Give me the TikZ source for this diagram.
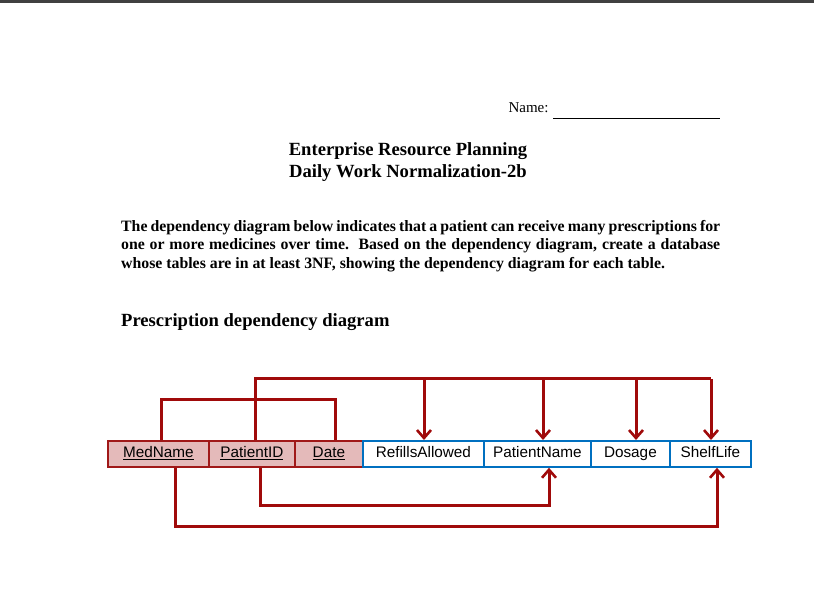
\documentclass[tikz,border=0pt]{standalone}
\usepackage{fontspec}
\setmainfont{Liberation Serif}
\newfontfamily\arial{Liberation Sans}
\definecolor{keyfill}{HTML}{E4BABA}
\definecolor{keyline}{HTML}{A01818}
\definecolor{attrline}{HTML}{0070C0}
\definecolor{depcol}{HTML}{A00A0A}
\begin{document}
\begin{tikzpicture}[x=1pt,y=-1pt,
  cell/.style={line width=1.8pt,minimum height=26pt,inner sep=0pt,text height=11pt,text depth=3pt,font=\arial\fontsize{15.3}{17}\selectfont,anchor=north west},
  key/.style={cell,draw=keyline,fill=keyfill},
  attr/.style={cell,draw=attrline},
  dep/.style={draw=depcol,line width=3pt},
  deparr/.style={dep,-{Straight Barb[length=8pt,width=14pt,line width=2.6pt]}}]
\usetikzlibrary{arrows.meta}
\useasboundingbox (0,0) rectangle (814,593);
\fill[black!75] (0,0) rectangle (814,3);
\node[anchor=base west,font=\fontsize{15}{17}\selectfont] (nm) at (505,113) {Name:};
\coordinate (l1) at (553,118); \coordinate (l2) at (720,118);
\draw[line width=0.8pt] (l1) -- (l2);
\node[anchor=north,align=center,font=\bfseries\fontsize{18.6}{22}\selectfont] (title) at (408,139) {Enterprise Resource Planning\\Daily Work Normalization-2b};
\node[anchor=north west,text width=599pt,inner sep=0pt,align=justify,font=\bfseries\fontsize{15.8}{18.5}\selectfont] (para) at (121,220) {The dependency diagram below indicates that a patient can receive many prescriptions for one or more medicines over time.\ \ Based on the dependency diagram, create a database whose tables are in at least 3NF, showing the dependency diagram for each table.};
\node[anchor=north west,inner sep=0pt,font=\bfseries\fontsize{18.6}{22}\selectfont] (sub) at (121,313) {Prescription dependency diagram};
\node[key,minimum width=101pt] (med) at (107,440) {\underline{MedName}};
\node[key,minimum width=86pt] (pid) at (208,440) {\underline{PatientID}};
\node[key,minimum width=68pt] (date) at (294,440) {\underline{Date}};
\node[attr,minimum width=121pt] (ref) at (362,440) {RefillsAllowed};
\node[attr,minimum width=107pt] (pn) at (483,440) {PatientName};
\node[attr,minimum width=79pt] (dos) at (590,440) {Dosage};
\node[attr,minimum width=81pt] (sl) at (669,440) {ShelfLife};
\draw[dep] (med.north west) ++(54,0) |- (335,400) -- (date.north west -| 335,0);
\draw[dep] (255,440) -- (255,379) -- (711,379);
\draw[deparr] (424,379) -- (ref.north -| 424,0);
\draw[deparr] (543,379) -- (pn.north -| 543,0);
\draw[deparr] (636,379) -- (dos.north -| 636,0);
\draw[deparr] (711,379) -- (sl.north -| 711,0);
\draw[deparr] (pid.south -| 260,0) |- (549,505) -- (pn.south -| 549,0);
\draw[deparr] (med.south -| 175,0) |- (717,526) -- (sl.south -| 717,0);
\end{tikzpicture}
\end{document}
